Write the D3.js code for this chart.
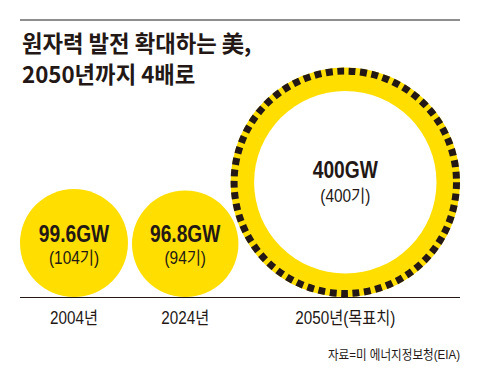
<!DOCTYPE html>
<html>
  <head>
    <meta charset="utf-8">
    <style>
    body {
      margin: 0;
      background: #fff;
    }
    text {
      fill: #231815;
    }
    </style>
  </head>
  <body>
    <script src="https://d3js.org/d3.v7.min.js"></script>
    <script>
    var width = 480, height = 380;

    // data
    var years = ["2004년", "2024년", "2050년(목표치)"];
    var capacity = [99.6, 96.8, 400];          // GW
    var reactors = [104, 94, 400];             // 기
    var isTarget = [false, false, true];
    var titleLines = ["원자력 발전 확대하는 美,", "2050년까지 4배로"];
    var source = "자료=미 에너지정보청(EIA)";

    var yellow = "#ffde00", ink = "#231815";
    var left = 20, right = 460, baseY = 297;
    var ringPad = 6.5, gap = 4;
    var font = "'Liberation Sans', 'Noto Sans CJK KR', sans-serif";

    var svg = d3.select("body").append("svg")
        .attr("width", width)
        .attr("height", height);

    // circle area ~ capacity
    var r = d3.scaleSqrt()
        .domain([0, d3.max(capacity)])
        .range([0, 108.2]);

    var data = capacity.map(function(v, i) {
      return {year: years[i], gw: v, units: reactors[i], target: isTarget[i]};
    });

    // outer radius (target gets a dashed rim)
    data.forEach(function(d) {
      d.r = r(d.gw);
      d.outer = d.target ? d.r + ringPad : d.r;
      d.cy = baseY - d.outer;
    });
    // pack left to right, the last one flush right
    data[0].cx = left + data[0].outer;
    data[1].cx = data[0].cx + data[0].outer + gap + data[1].outer;
    data[2].cx = right - data[2].outer;

    // narrow text: squeeze horizontally since no condensed face is around
    function squeezed(sel, sx) {
      return sel.attr("transform", function() {
        var t = d3.select(this);
        return "translate(" + t.attr("data-x") + "," + t.attr("data-y") + ") scale(" + sx + ",1)";
      });
    }

    // header rule + title
    svg.append("line")
        .attr("x1", left).attr("x2", right)
        .attr("y1", 20).attr("y2", 20)
        .attr("stroke", "#8e8e8e")
        .attr("stroke-width", 2);

    svg.selectAll(".title")
        .data(titleLines)
      .enter().append("text")
        .attr("class", "title")
        .attr("data-x", 22)
        .attr("data-y", function(d, i) { return 52 + i * 31; })
        .style("font-family", "'Noto Sans CJK KR', sans-serif")
        .style("font-weight", "bold")
        .style("font-size", "23px")
        .text(function(d) { return d; })
        .call(squeezed, 0.97);

    // bubbles
    var g = svg.selectAll(".bubble")
        .data(data)
      .enter().append("g")
        .attr("class", "bubble")
        .attr("transform", function(d) { return "translate(" + d.cx + "," + d.cy + ")"; });

    g.append("circle")
        .attr("r", function(d) { return d.outer; })
        .attr("fill", yellow);

    var tg = g.filter(function(d) { return d.target; });

    tg.append("circle")
        .attr("r", function(d) { return d.r - 17; })
        .attr("fill", "#fff");

    tg.append("circle")
        .attr("r", function(d) { return d.r + 3; })
        .attr("fill", "none")
        .attr("stroke", ink)
        .attr("stroke-width", 7)
        .attr("stroke-dasharray", function(d) {
          var c = 2 * Math.PI * (d.r + 3), n = Math.round(c / 11.5), p = c / n;
          return (p * 0.6) + "," + (p * 0.4);
        });

    g.append("text")
        .attr("text-anchor", "middle")
        .attr("data-x", 0)
        .attr("data-y", function(d) { return d.target ? -4.5 : -1.5; })
        .style("font-family", font)
        .style("font-weight", "bold")
        .style("font-size", "24px")
        .text(function(d) { return d.gw + "GW"; })
        .call(squeezed, 0.8);

    g.append("text")
        .attr("text-anchor", "middle")
        .attr("data-x", 0)
        .attr("data-y", function(d) { return d.target ? 19.5 : 20.5; })
        .style("font-family", font)
        .style("font-size", "17.5px")
        .text(function(d) { return "(" + d.units + "기)"; })
        .call(squeezed, 0.88);

    // baseline
    svg.append("line")
        .attr("x1", left).attr("x2", right)
        .attr("y1", baseY + 0.5).attr("y2", baseY + 0.5)
        .attr("stroke", ink)
        .attr("stroke-width", 1);

    svg.selectAll(".year")
        .data(data)
      .enter().append("text")
        .attr("class", "year")
        .attr("data-x", function(d) { return d.cx; })
        .attr("data-y", 324)
        .attr("text-anchor", "middle")
        .style("font-family", font)
        .style("font-size", "17.5px")
        .text(function(d) { return d.year; })
        .call(squeezed, 0.87);

    svg.append("text")
        .attr("data-x", right)
        .attr("data-y", 359)
        .attr("text-anchor", "end")
        .style("font-family", font)
        .style("font-size", "13px")
        .text(source)
        .call(squeezed, 0.89);
    </script>
  </body>
</html>
